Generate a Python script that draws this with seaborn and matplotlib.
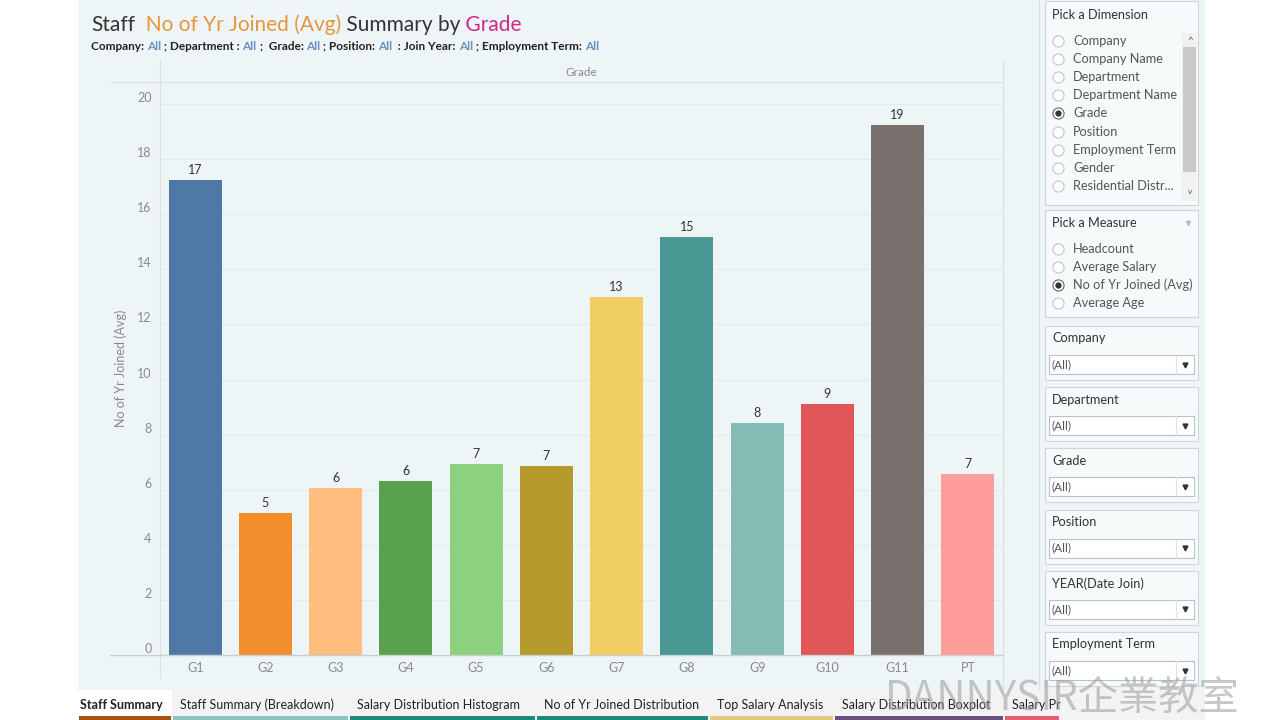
import matplotlib
matplotlib.use('Agg')
import matplotlib.pyplot as plt
import seaborn as sns
from matplotlib.lines import Line2D
from matplotlib.patches import Rectangle
from matplotlib.transforms import ScaledTranslation

# Chart data - average number of years joined per grade
grades = ['G1', 'G2', 'G3', 'G4', 'G5', 'G6', 'G7', 'G8', 'G9', 'G10', 'G11', 'PT']
avg_years = [17.24, 5.15, 6.06, 6.32, 6.93, 6.86, 13.0, 15.17, 8.42, 9.11, 19.24, 6.57]
bar_colors = ['#4e79a7', '#f28e2b', '#ffbe7d', '#59a14f', '#8cd17d', '#b6992d',
              '#f1ce63', '#499894', '#86bcb6', '#e15759', '#79706e', '#ff9d9a']
y_ticks = [0, 2, 4, 6, 8, 10, 12, 14, 16, 18, 20]

# Side panel and tab texts
dimension_options = ['Company', 'Company Name', 'Department', 'Department Name', 'Grade',
                     'Position', 'Employment Term', 'Gender', 'Residential Distr...']
measure_options = ['Headcount', 'Average Salary', 'No of Yr Joined (Avg)', 'Average Age']
filter_names = ['Company', 'Department', 'Grade', 'Position', 'YEAR(Date Join)', 'Employment Term']
tab_names = ['Staff Summary', 'Staff Summary (Breakdown)', 'Salary Distribution Histogram',
             'No of Yr Joined Distribution', 'Top Salary Analysis', 'Salary Distribution Boxplot', 'Salary Pr']
tab_colors = ['#a3520f', '#8cc5c0', '#1f8a78', '#1f8a78', '#e3c987', '#6b4f80', '#e85a70']

W, H = 1280, 720
sns.set_theme(style='white')
plt.rcParams['font.family'] = ['Lato', 'DejaVu Sans']

fig = plt.figure(figsize=(12.8, 7.2), dpi=100, facecolor='#eef5f7')
renderer = fig.canvas.get_renderer()


# helpers working in screen pixels (top-left origin)
def fx(x):
    return x / W


def fy(y):
    return 1 - y / H


def box(x0, y0, x1, y1, face, edge='none', lw=0.8, z=0):
    fig.add_artist(Rectangle((fx(x0), fy(y1)), (x1 - x0) / W, (y1 - y0) / H, transform=fig.transFigure,
                             facecolor=face, edgecolor=edge, linewidth=lw, zorder=z))


def line(xs, ys, color, lw=0.8, z=1):
    fig.add_artist(Line2D([fx(x) for x in xs], [fy(y) for y in ys], transform=fig.transFigure,
                          color=color, lw=lw, zorder=z))


def chain(x, y, parts, size, weight='normal'):
    # writes coloured pieces of text one after another
    for txt, col in parts:
        t = fig.text(fx(x), fy(y), txt, color=col, fontsize=size, fontweight=weight, va='center', ha='left')
        x = t.get_window_extent(renderer).x1


def radio(yy, selected):
    fig.add_artist(Line2D([fx(1058)], [fy(yy)], marker='o', ms=8, mfc='white',
                          mec='#666666' if selected else '#c4c4c4', mew=0.8, transform=fig.transFigure))
    if selected:
        fig.add_artist(Line2D([fx(1058)], [fy(yy)], marker='o', ms=3.5, mfc='#333333',
                              mec='#333333', transform=fig.transFigure))


# page background: white margins left and right
box(0, 0, 78, 720, 'white')
box(1205, 0, 1280, 720, 'white')
line([1039, 1039], [0, 690], '#d8e0e3')

# Main bar chart
ax = fig.add_axes([fx(160), fy(655), (1003 - 160) / W, (655 - 82) / H])
ax.set_facecolor('#eef5f7')
sns.barplot(x=grades, y=avg_years, hue=grades, palette=bar_colors, legend=False,
            width=0.755, saturation=1, edgecolor='none', ax=ax)
for container in ax.containers:
    ax.bar_label(container, fmt='{:.0f}', padding=3, fontsize=9, color='#333333')

ax.set_ylim(0, 20.8)
ax.set_xlim(-0.5, 11.5)
ax.set_yticks(y_ticks)
ax.yaxis.grid(True, color='#e2eaed', lw=0.8)
ax.set_axisbelow(True)
for s in ax.spines.values():
    s.set_visible(False)
ax.tick_params(axis='both', length=0, labelsize=9, labelcolor='#8a8a8a')
ax.tick_params(axis='y', pad=6)
ax.tick_params(axis='x', pad=5)
ax.set_xlabel('')
ax.set_ylabel('')
# Tableau puts the y labels just above the gridline
offset = ScaledTranslation(0, 0.07, fig.dpi_scale_trans)
for lab in ax.get_yticklabels():
    lab.set_transform(lab.get_transform() + offset)

fig.text(fx(121), fy(368), 'No of Yr Joined (Avg)', rotation=90, ha='center', va='center',
         fontsize=9, color='#8a8a8a')
fig.text(fx(581), fy(72), 'Grade', ha='center', va='center', fontsize=8.5, color='#8a8a8a')

# pane frame lines
line([110, 1003], [82, 82], '#d9e1e4')
line([1003, 1003], [60, 690], '#d9e1e4')
line([160, 160], [60, 678], '#d9e1e4')
line([110, 1003], [655, 655], '#c9cfd2', lw=1)

# Title and filter summary
chain(91, 25, [('Staff', '#333333'), ('  No of Yr Joined (Avg)', '#e8953a'),
               (' Summary by', '#333333'), (' Grade', '#d6258a')], 15)
blue = '#6a8fbf'
dark = '#222222'
chain(91, 46, [('Company: ', dark), ('All', blue), (' ; Department : ', dark), ('All', blue),
               (' ;  Grade: ', dark), ('All', blue), (' ; Position: ', dark), ('All', blue),
               ('  : Join Year: ', dark), ('All', blue), (' ; Employment Term: ', dark), ('All', blue)],
      8.5, weight='bold')

# Right panel - Pick a Dimension
box(1045, 1, 1198, 205, '#f7fafb', '#cdd6da')
fig.text(fx(1052), fy(15), 'Pick a Dimension', fontsize=9.2, color='#333333', va='center')
for i, opt in enumerate(dimension_options):
    yy = 41 + i * 18.1
    radio(yy, opt == 'Grade')
    fig.text(fx(1073), fy(yy), opt, fontsize=9.2, color='#555555', va='center')
box(1182, 33, 1197, 201, '#f1f1f1')
box(1183, 47, 1196, 172, '#c9c9c9')
fig.text(fx(1190), fy(40), '^', fontsize=7, color='#555555', ha='center', va='center')
fig.text(fx(1190), fy(192), 'v', fontsize=6, color='#555555', ha='center', va='center')

# Right panel - Pick a Measure
box(1045, 210, 1198, 317, '#f7fafb', '#cdd6da')
fig.text(fx(1052), fy(223), 'Pick a Measure', fontsize=9.2, color='#333333', va='center')
fig.add_artist(Line2D([fx(1188)], [fy(223)], marker='v', ms=3, mfc='#bbbbbb', mec='#bbbbbb',
                      transform=fig.transFigure))
for i, opt in enumerate(measure_options):
    yy = 249 + i * 18.1
    radio(yy, opt == 'No of Yr Joined (Avg)')
    fig.text(fx(1073), fy(yy), opt, fontsize=9.2, color='#555555', va='center')

# Right panel - dropdown filters
for i, name in enumerate(filter_names):
    top = 326 + i * 61.2
    box(1045, top, 1198, top + 54, '#f7fafb', '#cdd6da')
    fig.text(fx(1052), fy(top + 12.5), name, fontsize=9.2, color='#333333', va='center')
    box(1049, top + 29, 1194, top + 48, 'white', '#b9c2c6')
    line([1176, 1176], [top + 29, top + 48], '#e2e2e2')
    fig.text(fx(1052), fy(top + 38.5), '(All)', fontsize=8.5, color='#555555', va='center')
    fig.add_artist(Line2D([fx(1185)], [fy(top + 38.5)], marker='v', ms=3.5, mfc='#333333',
                          mec='#333333', transform=fig.transFigure))

# Bottom sheet tabs
tab_edges = [78, 172, 349, 536, 709, 834, 1004, 1060]
box(78, 690, 1205, 720, '#f3f3f3')
for i, name in enumerate(tab_names):
    x0, x1 = tab_edges[i], tab_edges[i + 1]
    if i == 0:
        box(x0, 690, x1, 716, 'white')
    fig.text(fx(x0 + 2 if i == 0 else x0 + 8), fy(705), name, fontsize=9,
             fontweight='bold' if i == 0 else 'normal', color='#222222', va='center')
    box(x0 + 1, 716, x1 - 1, 720, tab_colors[i])

# watermark
fig.text(fx(885), fy(698), 'DANNYSIR企業教室', fontsize=29, color='#9a9a9a', alpha=0.55,
         va='center', ha='left', family=['Noto Sans CJK TC', 'DejaVu Sans'])

fig.savefig('out.png', dpi=100, facecolor=fig.get_facecolor())
